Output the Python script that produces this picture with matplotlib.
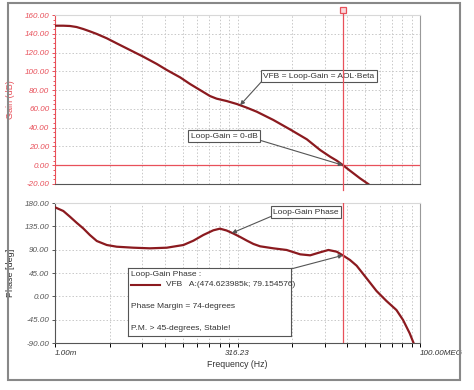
import numpy as np
import matplotlib
matplotlib.use("Agg")
import matplotlib.pyplot as plt
from matplotlib.ticker import FixedLocator, NullFormatter, MultipleLocator
from matplotlib.patches import Rectangle

plt.rcParams["font.family"] = ["Liberation Sans", "DejaVu Sans"]

# gain curve (log10 of frequency, dB)
gain_logf = [-3.0, -2.75, -2.55, -2.35, -2.15, -1.95, -1.74, -1.44, -1.14, -0.74,
             -0.34, 0.07, 0.37, 0.77, 1.07, 1.37, 1.67, 1.87, 2.17, 2.48,
             2.78, 3.08, 3.58, 4.08, 4.59, 4.99, 5.29, 5.49, 5.68, 5.89,
             6.19, 6.44]
gain_db = [148.6, 148.6, 148.3, 147.2, 145.1, 142.6, 139.8, 135.2, 129.8, 122.7,
           115.6, 107.8, 101.4, 93.6, 86.5, 80.1, 73.7, 70.9, 68.4, 65.2,
           61.3, 57.0, 48.2, 38.2, 27.6, 16.2, 9.1, 4.9, 0.0, -5.8,
           -13.9, -20.0]

# phase curve (log10 of frequency, degrees)
phase_logf = [-3.0, -2.75, -2.55, -2.35, -2.15, -1.95, -1.74, -1.44, -1.14, -0.64,
              -0.14, 0.37, 0.87, 1.17, 1.47, 1.77, 1.97, 2.17, 2.38, 2.58,
              2.78, 2.98, 3.18, 3.58, 3.98, 4.39, 4.69, 4.99, 5.24, 5.49,
              5.67, 5.89, 6.09, 6.39, 6.69, 6.99, 7.29, 7.49, 7.69, 7.81]
phase_deg = [171.7, 164.6, 153.6, 142.0, 131.1, 118.3, 106.7, 99.0, 95.7, 93.8,
             92.6, 93.8, 99.0, 107.3, 118.3, 127.3, 130.5, 127.0, 121.0, 114.5,
             107.5, 101.0, 96.5, 92.6, 89.4, 81.0, 79.1, 84.9, 89.4, 86.1,
             79.2, 70.1, 59.1, 34.8, 10.3, -9.0, -26.4, -45.7, -71.4, -90.6]

cursor_f = 474.623985e3
cursor_phase = 79.154576
xtick_vals = [1e-3, 316.23, 1e8]
xtick_labels = ["1.00m", "316.23", "100.00MEG"]

red = "#e8505a"
curve = "#8b1a1f"
grey = "#555555"
txt = "#333333"

# TINA style grid: each half of the axis is split like a log decade
grid_f = []
for base in (1e-3, 316.23):
    for k in range(2, 11):
        grid_f.append(base * k ** 5.5)

fig = plt.figure(figsize=(4.74, 3.90), dpi=100)
W, H = 474, 390

def px_axes(l, t, r, b):
    return fig.add_axes([l / W, (H - b) / H, (r - l) / W, (b - t) / H])

def fpx(x, y):
    return (x, H - y)

ax1 = px_axes(55, 15, 420, 184)
ax2 = px_axes(55, 203, 420, 343)

for ax in (ax1, ax2):
    ax.set_xscale("log")
    ax.set_xlim(1e-3, 1e8)
    ax.xaxis.set_major_locator(FixedLocator(xtick_vals))
    ax.xaxis.set_minor_locator(FixedLocator(grid_f))
    ax.xaxis.set_minor_formatter(NullFormatter())
    ax.grid(True, which="both", axis="x", color="#c8c8c8", ls=(0, (1.5, 2)), lw=0.7)
    ax.grid(True, which="major", axis="y", color="#c8c8c8", ls=(0, (1.5, 2)), lw=0.7)
    ax.tick_params(which="both", labelsize=5.8, length=2.5, width=0.7, pad=1.5)
    ax.spines["top"].set_color("#d8d8d8")
    ax.spines["right"].set_color("#999999")
    ax.spines["bottom"].set_color(grey)
    for s in ax.spines.values():
        s.set_linewidth(0.8)

# gain panel
ax1.plot(10 ** np.array(gain_logf), gain_db, color=curve, lw=1.6, zorder=3)
ax1.set_ylim(-20, 160)
ax1.yaxis.set_major_locator(MultipleLocator(20))
ax1.yaxis.set_minor_locator(MultipleLocator(5))
ax1.set_yticklabels([f"{v:.2f}" for v in ax1.get_yticks()], fontstyle="italic", color=red)
ax1.set_ylim(-20, 160)
ax1.tick_params(axis="y", which="both", colors=red)
ax1.tick_params(axis="y", which="minor", length=1.5)
ax1.tick_params(axis="x", which="both", labelbottom=False, length=0)
ax1.spines["left"].set_color(red)
ax1.set_ylabel("Gain (dB)", color=red, fontsize=6.5)
ax1.yaxis.set_label_coords(-40 / 365, 0.5)
ax1.axhline(0, color=red, lw=0.9, zorder=2)
ax1.axvline(cursor_f, ymin=-0.036, ymax=1.025, color=red, lw=0.9, clip_on=False, zorder=4)
ax1.plot([cursor_f], [1.03], transform=ax1.get_xaxis_transform(), marker="s", ms=4,
         mfc="#fbd9dc", mec=red, mew=0.9, clip_on=False, zorder=5)

# phase panel
ax2.plot(10 ** np.array(phase_logf), phase_deg, color=curve, lw=1.6, zorder=3)
ax2.set_ylim(-90, 180)
ax2.yaxis.set_major_locator(MultipleLocator(45))
ax2.set_yticklabels([f"{v:.2f}" for v in ax2.get_yticks()], fontstyle="italic", color=txt)
ax2.set_ylim(-90, 180)
ax2.tick_params(axis="y", colors=grey)
ax2.spines["left"].set_color(grey)
ax2.set_ylabel("Phase [deg]", color=txt, fontsize=6.5)
ax2.yaxis.set_label_coords(-40 / 365, 0.5)
ax2.axvline(cursor_f, color=red, lw=0.9, zorder=4)
ax2.set_xticklabels(xtick_labels, fontstyle="italic", color=txt)
for lab, ha in zip(ax2.get_xticklabels(), ["left", "center", "left"]):
    lab.set_ha(ha)
ax2.tick_params(axis="x", which="both", length=3, pad=2)
ax2.set_xlabel("Frequency (Hz)", fontsize=6.3, color=txt, labelpad=2)

box = dict(boxstyle="square,pad=0.25", fc="white", ec=grey, lw=0.8)
arrow = dict(arrowstyle="-|>", color=grey, lw=0.8, mutation_scale=6, shrinkA=0, shrinkB=0)

ax1.annotate("VFB = Loop-Gain = AOL·Beta", xy=(10 ** 2.58, 64.0), xycoords="data",
             xytext=fpx(319, 76), textcoords="figure pixels", fontsize=6, ha="center",
             va="center", color=txt, bbox=box, arrowprops=dict(arrow, relpos=(0.0, 0.0)))
ax1.annotate("Loop-Gain = 0-dB", xy=(cursor_f, 0), xycoords="data",
             xytext=fpx(224, 136), textcoords="figure pixels", fontsize=6, ha="center",
             va="center", color=txt, bbox=box, arrowprops=dict(arrow, relpos=(1.0, 0.0)))
ax2.annotate("Loop-Gain Phase", xy=(10 ** 2.33, 122.0), xycoords="data",
             xytext=fpx(306, 212), textcoords="figure pixels", fontsize=6, ha="center",
             va="center", color=txt, bbox=box, arrowprops=dict(arrow, relpos=(0.0, 0.0)))

# info box in the phase panel
ax2.annotate("", xy=(cursor_f, cursor_phase), xycoords="data",
             xytext=fpx(291, 269), textcoords="figure pixels", arrowprops=arrow)
info = px_axes(128, 268, 291, 336)
info.set_xlim(0, 163)
info.set_ylim(68, 0)
info.set_xticks([])
info.set_yticks([])
for s in info.spines.values():
    s.set_color(grey)
    s.set_linewidth(0.8)
info.text(3, 6.5, "Loop-Gain Phase :", fontsize=6, va="center", color=txt)
info.plot([3, 32], [16.5, 16.5], color=curve, lw=1.5)
info.text(38, 16.5, "VFB   A:(474.623985k; 79.154576)", fontsize=6, va="center", color=txt)
info.text(3, 38, "Phase Margin = 74-degrees", fontsize=6, va="center", color=txt)
info.text(3, 60, "P.M. > 45-degrees, Stable!", fontsize=6, va="center", color=txt)

# outer frame
fig.patches.append(Rectangle((8 / W, (H - 380) / H), 452 / W, 377 / H, transform=fig.transFigure,
                             fill=False, ec="#888888", lw=1.5))

fig.savefig("out.png", dpi=100)
